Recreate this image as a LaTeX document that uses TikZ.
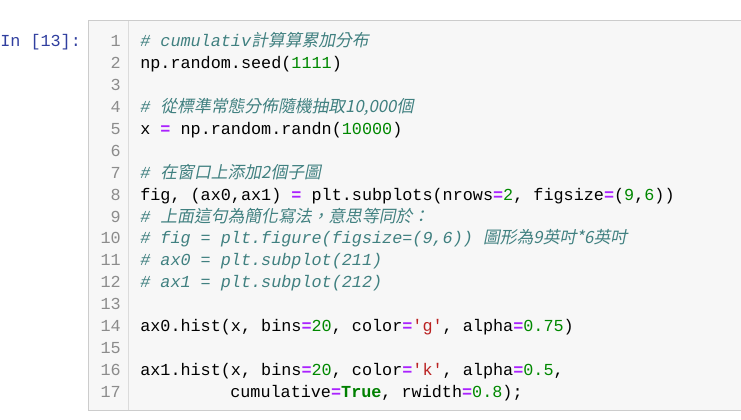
\documentclass[tikz,border=0pt]{standalone}
\usepackage{fontspec}
\setmonofont{Liberation Mono}
\newfontfamily\cjkf{Noto Sans CJK TC}
\newfontfamily\cjki[FakeSlant=0.2]{Noto Sans CJK TC}
\definecolor{cmt}{HTML}{408080}
\definecolor{num}{HTML}{008800}
\definecolor{opc}{HTML}{AA22FF}
\definecolor{strc}{HTML}{BA2121}
\definecolor{kwc}{HTML}{008000}
\definecolor{prm}{HTML}{303F9F}
\newcommand\cm[1]{{\color{cmt}\itshape #1}}
\newcommand\cj[1]{{\color{cmt}\cjki #1}}
\newcommand\nm[1]{{\color{num}#1}}
\newcommand\op{{\color{opc}\bfseries =}}
\newcommand\sr[1]{{\color{strc}#1}}
\newcommand\kw[1]{{\color{kwc}\bfseries #1}}
\begin{document}
\begin{tikzpicture}[x=0.75pt,y=-0.75pt,
  code/.style={anchor=base west,inner sep=0,font=\ttfamily\fontsize{12.6pt}{14pt}\selectfont},
  lnum/.style={anchor=base east,inner sep=0,text=black!45,font=\ttfamily\fontsize{12.6pt}{14pt}\selectfont}]
\useasboundingbox (0,0) rectangle (741,420);
\fill[white] (0,0) rectangle (741,420);
\draw[fill=black!3,draw=black!20] (88.5,20.5) rectangle (745,410.5);
\draw[black!14] (128.5,21) -- (128.5,410);
\node[code,text=prm] (prompt) at (0,47) {In [13]:};
\foreach \i in {1,...,17}{
  \node[lnum] (n\i) at (121,{47+(\i-1)*21.875}) {\i};
}
\node[code] (l1) at (140,47) {\cm{\# cumulativ}\cj{計算算累加分布}};
\node[code] (l2) at (140,{47+1*21.875}) {np.random.seed(\nm{1111})};
\node[code] (l4) at (140,{47+3*21.875}) {\cm{\# }\cj{從標準常態分佈隨機抽取10,000個}};
\node[code] (l5) at (140,{47+4*21.875}) {x \op{} np.random.randn(\nm{10000})};
\node[code] (l7) at (140,{47+6*21.875}) {\cm{\# }\cj{在窗口上添加2個子圖}};
\node[code] (l8) at (140,{47+7*21.875}) {fig, (ax0,ax1) \op{} plt.subplots(nrows\op\nm{2}, figsize\op(\nm{9},\nm{6}))};
\node[code] (l9) at (140,{47+8*21.875}) {\cm{\# }\cj{上面這句為簡化寫法，意思等同於：}};
\node[code] (l10) at (140,{47+9*21.875}) {\cm{\# fig = plt.figure(figsize=(9,6)) }\cj{圖形為9英吋*6英吋}};
\node[code] (l11) at (140,{47+10*21.875}) {\cm{\# ax0 = plt.subplot(211)}};
\node[code] (l12) at (140,{47+11*21.875}) {\cm{\# ax1 = plt.subplot(212)}};
\node[code] (l14) at (140,{47+13*21.875}) {ax0.hist(x, bins\op\nm{20}, color\op\sr{'g'}, alpha\op\nm{0.75})};
\node[code] (l16) at (140,{47+15*21.875}) {ax1.hist(x, bins\op\nm{20}, color\op\sr{'k'}, alpha\op\nm{0.5},};
\node[code] (l17) at (230,{47+16*21.875}) {cumulative\op\kw{True}, rwidth\op\nm{0.8});};
\end{tikzpicture}
\end{document}
